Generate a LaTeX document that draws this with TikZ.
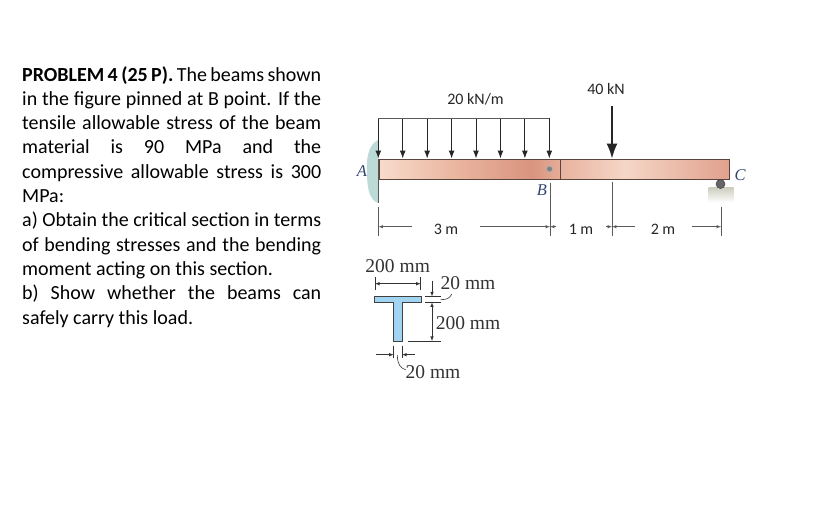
\documentclass[tikz,border=0pt]{standalone}
\usepackage{fontspec}
\setmainfont{Carlito}
\newfontfamily\figserif{Liberation Serif}
\usepackage{tikz}
\usetikzlibrary{arrows.meta}
\definecolor{beamedge}{RGB}{90,68,62}
\definecolor{tealwall}{RGB}{188,218,214}
\definecolor{flangeblue}{RGB}{160,212,240}
\definecolor{dimgray}{RGB}{90,90,90}
\definecolor{letterblue}{RGB}{50,70,110}
\definecolor{basetop}{RGB}{205,205,190}
\pgfdeclarehorizontalshading{beamleft}{100bp}{
  rgb(0bp)=(0.97,0.86,0.80); rgb(25bp)=(0.97,0.86,0.80); rgb(45bp)=(0.92,0.72,0.63);
  rgb(67bp)=(0.85,0.58,0.50); rgb(75bp)=(0.90,0.68,0.60); rgb(100bp)=(0.90,0.68,0.60)}
\pgfdeclarehorizontalshading{beamright}{100bp}{
  rgb(0bp)=(0.91,0.70,0.62); rgb(25bp)=(0.91,0.70,0.62); rgb(44bp)=(0.96,0.84,0.78);
  rgb(75bp)=(0.88,0.63,0.55); rgb(100bp)=(0.88,0.63,0.55)}
\tikzset{
  lbl/.style={font=\fontsize{16}{18}\selectfont, text=black!85, inner sep=0pt},
  secl/.style={font=\figserif\fontsize{19.5}{21}\selectfont, text=black!80, inner sep=0pt},
  letter/.style={font=\figserif\itshape\fontsize{16.5}{18}\selectfont, text=letterblue, inner sep=0pt},
  udl/.style={-{Latex[length=8pt,width=6pt]}, line width=1pt, black!85},
  dimline/.style={-latex, line width=0.5pt, dimgray},
  ticks/.style={line width=0.6pt, dimgray},
  secdim/.style={line width=0.6pt, black!80},
  beampart/.style={draw=beamedge, line width=1.3pt, minimum height=20pt, inner sep=0pt, anchor=north west},
}
\begin{document}
\begin{tikzpicture}[x=1pt,y=-1pt]
        \useasboundingbox (0,0) rectangle (818,515);

        % problem text
        \node [anchor=north west, inner sep=0pt, align=left, font=\fontsize{20}{24.3}\selectfont] (problem) at (22,66) {%
            \makebox[299pt][s]{\textbf{PROBLEM 4 (25 P).} The beams shown}\\
            \makebox[299pt][s]{in the figure pinned at B point. If the}\\
            \makebox[299pt][s]{tensile allowable stress of the beam}\\
            \makebox[299pt][s]{material is 90 MPa and the}\\
            \makebox[299pt][s]{compressive allowable stress is 300}\\
            MPa:\\
            \makebox[299pt][s]{a) Obtain the critical section in terms}\\
            \makebox[299pt][s]{of bending stresses and the bending}\\
            moment acting on this section.\\
            \makebox[299pt][s]{b) Show whether the beams can}\\
            safely carry this load.};

        % beam
        \fill [tealwall] (378,140) .. controls (368,145) and (366,160) .. (367,172) .. controls (367,190) and (370,200) .. (378,203) -- cycle;
        \node [beampart, shading=beamleft, minimum width=181.5pt] (beamAB) at (378.3,158.7) {};
        \node [beampart, shading=beamright, minimum width=169.3pt] (beamBC) at (559.8,158.7) {};
        \coordinate (wallend) at (378.3,203);
        \draw [line width=0.9pt, dimgray] (beamAB.north west) -- (wallend);
        \node [circle, fill=gray, draw=gray!60, line width=0.7pt, minimum size=6pt, inner sep=0pt] (pin) at (549.5,169) {};

        \node [letter] (A) at (362,171) {A};
        \node [letter] (B) at (542,190) {B};
        \node [letter] (C) at (740,175) {C};

        % distributed load
        \node [lbl] (qlabel) at (475.5,99) {20 kN/m};
        \foreach \i in {0,...,7} {
            \coordinate (qtop\i) at ({378.3+24.43*\i},118.3);
            \coordinate (qtip\i) at ({378.3+24.43*\i},158.5);
            \draw [udl] (qtop\i) -- (qtip\i);
        }
        \draw [line width=0.5pt, dimgray] (qtop0) -- (qtop7);

        % point load
        \node [lbl] (plabel) at (606,89) {40 kN};
        \coordinate (ptop) at (612,106);
        \coordinate (ptip) at (612,158.5);
        \draw [-{Latex[length=15pt,width=11pt]}, line width=1.5pt, black!85] (ptop) -- (ptip);

        % roller
        \node [top color=basetop, bottom color=white, minimum width=25pt, minimum height=15pt, inner sep=0pt] (base) at (721,195) {};
        \node [circle, fill=black!60, draw=black!75, line width=0.5pt, minimum size=9pt, inner sep=0pt] (roller) at (720.5,184) {};

        % dimensions
        \coordinate (d0t) at (378.6,207);
        \coordinate (d0b) at (378.6,236);
        \coordinate (d1t) at (550,183);
        \coordinate (d1b) at (550,236);
        \coordinate (d2t) at (612,182);
        \coordinate (d2b) at (612,236);
        \coordinate (d3t) at (721,207);
        \coordinate (d3b) at (721,236);
        \foreach \n in {0,...,3} {
            \draw [ticks] (d\n t) -- (d\n b);
        }
        \node [lbl] (dimA) at (446,229) {3 m};
        \node [lbl] (dimB) at (581,229) {1 m};
        \node [lbl] (dimC) at (663,229) {2 m};
        \coordinate (a1) at (378.6,226.7);
        \coordinate (a2) at (412,226.7);
        \coordinate (a3) at (480,226.7);
        \coordinate (a4) at (550,226.7);
        \coordinate (a5) at (556,226.7);
        \coordinate (a6) at (606,226.7);
        \coordinate (a7) at (612,226.7);
        \coordinate (a8) at (635,226.7);
        \coordinate (a9) at (692,226.7);
        \coordinate (a10) at (721,226.7);
        \draw [dimline] (a2) -- (a1);
        \draw [dimline] (a3) -- (a4);
        \draw [dimline] (a5) -- (a4);
        \draw [dimline] (a6) -- (a7);
        \draw [dimline] (a8) -- (a7);
        \draw [dimline] (a9) -- (a10);

        % T section
        \draw [draw=black!75, line width=0.8pt, fill=flangeblue, line join=miter] (374.3,296) -- (421,296) -- (421,302.3) -- (402,302.3) -- (402,341.7) -- (393.3,341.7) -- (393.3,302.3) -- (374.3,302.3) -- cycle;

        \node [secl] (widthlabel) at (397.7,265.7) {200 mm};
        \node [secl] (flangelabel) at (468,283) {20 mm};
        \node [secl] (depthlabel) at (468,322.7) {200 mm};
        \node [secl] (weblabel) at (433,372) {20 mm};

        \coordinate (wl) at (375,283.7);
        \coordinate (wr) at (420.7,283.7);
        \draw [secdim] (375,277) -- (375,290);
        \draw [secdim] (420.7,277) -- (420.7,290);
        \draw [secdim, latex-latex] (wl) -- (wr);

        \coordinate (f0) at (432,280.7);
        \coordinate (f1) at (432,296.5);
        \coordinate (f2) at (432,302.3);
        \coordinate (f3) at (432,341);
        \draw [secdim, -latex] (f0) -- (f1);
        \draw [secdim, latex-latex] (f2) -- (f3);
        \draw [secdim] (425,296.5) -- (441,296.5);
        \draw [secdim] (425,302.3) -- (441,302.3);
        \draw [secdim] (407.7,341) -- (441,341);
        \coordinate (fa) at (451.7,294);
        \coordinate (fb) at (440.7,299.7);
        \draw [secdim] (fa) .. controls (450,298) and (447,299.7) .. (fb);

        \coordinate (s1) at (376,354.7);
        \coordinate (s2) at (393.7,354.7);
        \coordinate (s3) at (415,354.7);
        \coordinate (s4) at (402,354.7);
        \draw [secdim, -latex] (s1) -- (s2);
        \draw [secdim, -latex] (s3) -- (s4);
        \draw [secdim] (393.7,345.7) -- (393.7,358);
        \draw [secdim] (402,345.7) -- (402,358);
        \draw [secdim] (397.3,355) .. controls (397.5,364) and (400,368) .. (406,370);
    \end{tikzpicture}
\end{document}
